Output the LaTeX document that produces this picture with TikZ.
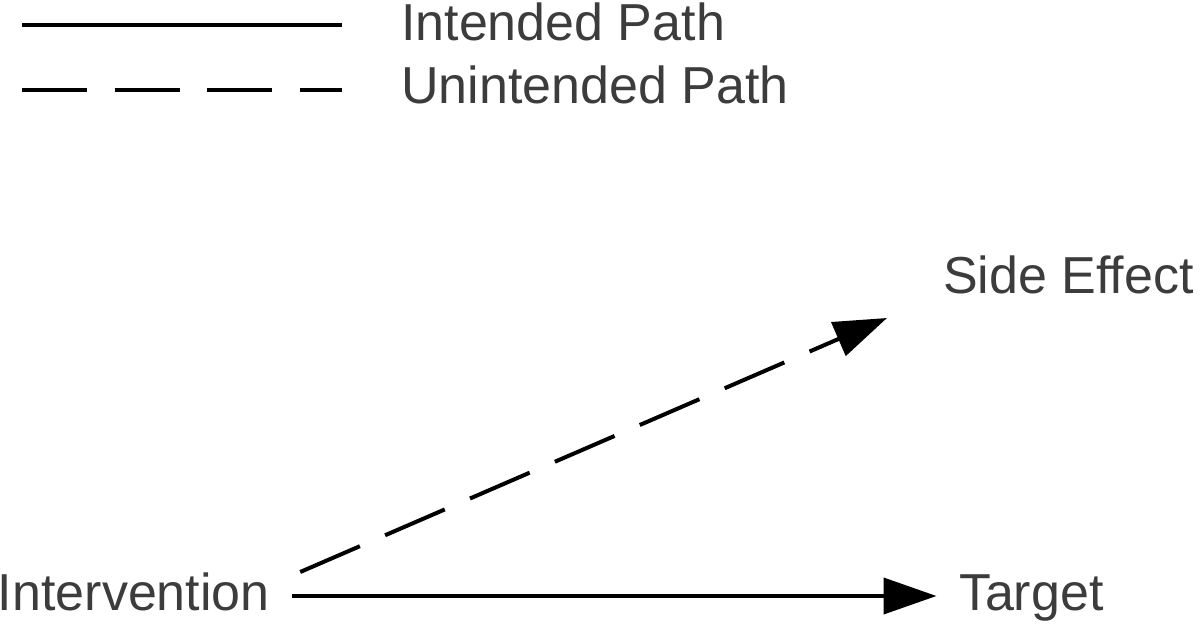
\documentclass[tikz,border=0pt]{standalone}
\usepackage{fontspec}
\setmainfont{Liberation Sans}
\usetikzlibrary{arrows.meta}
\definecolor{txtgray}{RGB}{60,60,60}
\begin{document}
\begin{tikzpicture}[x=1pt,y=-1pt,
  lbl/.style={inner sep=0pt, anchor=base west, text=txtgray,
    font=\fontsize{52}{56}\selectfont, text height=36pt, text depth=8pt},
  conn/.style={line width=4pt, line cap=butt},
  dashline/.style={conn, dash pattern=on 65pt off 27.5pt},
  tip/.style={-{Triangle[length=53pt,width=36pt]}}
]
\useasboundingbox (0,0) rectangle (1200,624);
% legend
\coordinate (l1a) at (22,25);
\coordinate (l1b) at (342,25);
\coordinate (l2a) at (22,90);
\coordinate (l2b) at (342,90);
\draw[conn] (l1a) -- (l1b);
\draw[dashline] (l2a) -- (l2b);
\node[lbl] (leg1) at (401,40) {Intended Path};
\node[lbl] (leg2) at (401,103) {Unintended Path};
% main nodes
\node[lbl, outer xsep=22.5pt] (int) at (-24.5,610) {Intervention};
\node[lbl, outer xsep=22.5pt] (tgt) at (936.5,610) {Target};
\node[lbl] (se) at (943,293) {Side Effect};
% connectors
\draw[conn, tip] (int.east) -- (tgt.west);
\draw[dashline, tip] ([xshift=8pt,yshift=38pt]int.base east) -- ([xshift=-56pt,yshift=-25pt]se.base west);
\end{tikzpicture}
\end{document}
